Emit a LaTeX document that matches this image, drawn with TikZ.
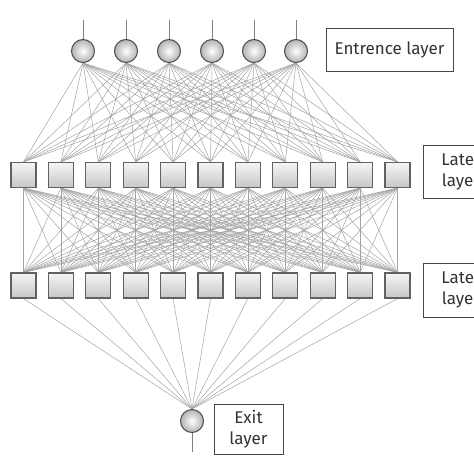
\documentclass[tikz,border=0pt]{standalone}
\usepackage{fontspec}
\setmainfont{Fira Sans}
\usetikzlibrary{backgrounds}

\tikzset{
    neuron/.style={circle, draw=black!70, line width=1pt, inner color=white,
        outer color=black!30, minimum size=23pt, inner sep=0pt},
    unit/.style={rectangle, draw=black!62, line width=1.2pt, top color=black!4,
        bottom color=black!22, minimum size=25pt, inner sep=0pt},
    wire/.style={black!36, line width=0.5pt},
    tag/.style={draw=black!72, line width=1pt, fill=white, align=center,
        text=black!80, font=\fontsize{17}{21}\selectfont, inner sep=2pt}
}

\begin{document}
\begin{tikzpicture}[x=1pt, y=-1pt]
    \useasboundingbox (0,0) rectangle (474,474);
    \clip (0,0) rectangle (474,474);
    % entrance neurons
    \foreach \i/\x in {1/83,2/126,3/169,4/212,5/254,6/296} {
        \node[neuron] (in\i) at (\x,51) {};
        \coordinate (top\i) at (\x,20);
    }
    % the two later layers
    \foreach \j in {1,...,11} {
        \node[unit] (a\j) at ({23.5+37.4*(\j-1)},175) {};
        \node[unit] (b\j) at ({23.5+37.4*(\j-1)},285.5) {};
    }
    % exit neuron
    \node[neuron] (out) at (192,421) {};
    \coordinate (end) at (192,452);
    % labels
    \node[tag, minimum width=127pt, minimum height=43pt] (lbin) at (389.5,49.5) {Entrence layer};
    \node[tag, minimum width=75pt, minimum height=53pt] (lba) at (461,171.5) {Later\\layer};
    \node[tag, minimum width=75pt, minimum height=54pt] (lbb) at (461,290) {Later\\layer};
    \node[tag, minimum width=69pt, minimum height=50pt] (lbout) at (248.5,429) {Exit\\layer};
    \begin{scope}[on background layer]
        \foreach \i in {1,...,6} {
            \draw[black!50, line width=0.7pt] (top\i) -- (in\i.north);
            \foreach \j in {1,...,11}
                \draw[wire] (in\i.south) -- (a\j.north);
        }
        \foreach \j in {1,...,11} {
            \foreach \k in {1,...,11}
                \draw[wire] (a\j.south) -- (b\k.north);
            \draw[wire] (b\j.south) -- (out.north);
        }
        \draw[black!50, line width=0.7pt] (out.south) -- (end);
    \end{scope}
\end{tikzpicture}
\end{document}
